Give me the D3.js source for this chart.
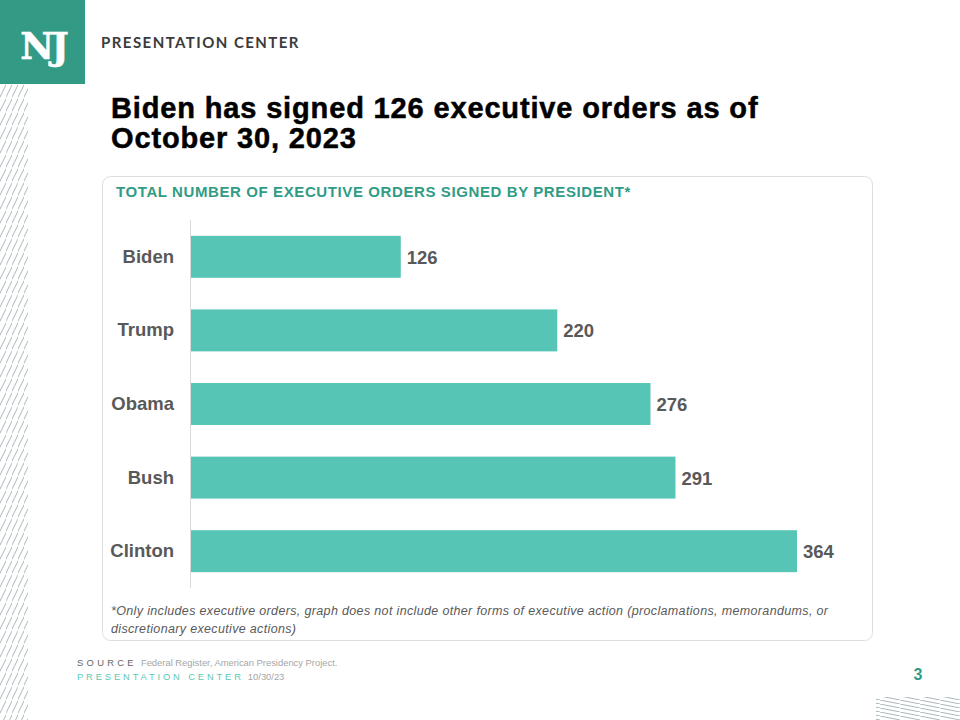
<!DOCTYPE html>
<html>
<head>
<meta charset="utf-8">
<script src="https://cdn.jsdelivr.net/npm/d3@7"></script>
<style>
  body { margin: 0; background: #fff; }
  svg { display: block; }
</style>
</head>
<body>
<svg id="chart" width="960" height="720"></svg>
<script>
var presidents = ['Biden', 'Trump', 'Obama', 'Bush', 'Clinton'];
var orders = [126, 220, 276, 291, 364];
var titleLines = ['Biden has signed 126 executive orders as of', 'October 30, 2023'];
var subtitle = 'TOTAL NUMBER OF EXECUTIVE ORDERS SIGNED BY PRESIDENT*';
var footLines = ['*Only includes executive orders, graph does not include other forms of executive action (proclamations, memorandums, or',
  'discretionary executive actions)'];

var FONT = 'Liberation Sans, Arial, sans-serif';
var BAR = '#56c5b5';
var TEAL = '#2f9c86';

var svg = d3.select('#chart');

// hatch patterns
var defs = svg.append('defs');
defs.append('pattern')
  .attr('id', 'hatchLeft')
  .attr('patternUnits', 'userSpaceOnUse')
  .attr('width', 6).attr('height', 14)
  .append('line')
  .attr('x1', -1).attr('y1', 15).attr('x2', 7).attr('y2', -1)
  .attr('stroke', '#9fb0b4').attr('stroke-width', 0.9);
defs.append('pattern')
  .attr('id', 'hatchRight')
  .attr('patternUnits', 'userSpaceOnUse')
  .attr('width', 20).attr('height', 4)
  .append('line')
  .attr('x1', -2).attr('y1', -0.4).attr('x2', 22).attr('y2', 4.4)
  .attr('stroke', '#9fb0b4').attr('stroke-width', 0.9);

svg.append('rect').attr('x', 0).attr('y', 84).attr('width', 28).attr('height', 636).attr('fill', 'url(#hatchLeft)');
svg.append('rect').attr('x', 876).attr('y', 697).attr('width', 84).attr('height', 23).attr('fill', 'url(#hatchRight)');

// logo
svg.append('rect').attr('x', 0).attr('y', 0).attr('width', 85).attr('height', 84).attr('fill', '#339b85');
svg.append('text')
  .attr('x', 43).attr('y', 59)
  .attr('text-anchor', 'middle')
  .attr('font-family', 'DejaVu Serif, Liberation Serif, serif')
  .attr('font-weight', 'bold')
  .attr('font-size', 37)
  .attr('letter-spacing', -3)
  .attr('fill', '#fff')
  .attr('stroke', '#fff').attr('stroke-width', 0.6)
  .text('NJ');
svg.append('text')
  .attr('x', 101).attr('y', 48)
  .attr('font-family', 'Lato, Open Sans, sans-serif')
  .attr('font-weight', 'bold')
  .attr('font-size', 15)
  .attr('letter-spacing', 1.45)
  .attr('fill', '#3b3b3b')
  .text('PRESENTATION CENTER');

// title
svg.append('g').selectAll('text')
  .data(titleLines)
  .enter().append('text')
  .attr('x', 111)
  .attr('y', function(d, i) { return 118 + i * 29.5; })
  .attr('font-family', FONT)
  .attr('font-weight', 'bold')
  .attr('font-size', 29)
  .attr('letter-spacing', 0.85)
  .attr('fill', '#000')
  .attr('stroke', '#000').attr('stroke-width', 0.5)
  .text(function(d) { return d; });

// card
svg.append('rect')
  .attr('x', 102.5).attr('y', 176.5).attr('width', 770).attr('height', 464)
  .attr('rx', 8)
  .attr('fill', '#fff')
  .attr('stroke', '#dedede');

svg.append('text')
  .attr('x', 116).attr('y', 197)
  .attr('font-family', FONT)
  .attr('font-weight', 'bold')
  .attr('font-size', 15)
  .attr('letter-spacing', 0.6)
  .attr('fill', TEAL)
  .text(subtitle);

// bars
var x = d3.scaleLinear().domain([0, d3.max(orders)]).range([191, 797]);
var y = d3.scaleBand().domain(presidents).range([220, 588]).paddingInner(0.43).paddingOuter(0.215);

svg.append('line')
  .attr('x1', 190.5).attr('x2', 190.5)
  .attr('y1', 220).attr('y2', 588)
  .attr('stroke', '#d9d9d9');

var rows = svg.append('g').selectAll('g')
  .data(presidents)
  .enter().append('g');

rows.append('rect')
  .attr('x', x(0))
  .attr('y', function(d) { return y(d); })
  .attr('width', function(d, i) { return x(orders[i]) - x(0); })
  .attr('height', y.bandwidth())
  .attr('fill', BAR);

rows.append('text')
  .attr('x', 174)
  .attr('y', function(d) { return y(d) + y.bandwidth() / 2 + 6; })
  .attr('text-anchor', 'end')
  .attr('font-family', FONT)
  .attr('font-weight', 'bold')
  .attr('font-size', 18.5)
  .attr('fill', '#595959')
  .text(function(d) { return d; });

rows.append('text')
  .attr('x', function(d, i) { return x(orders[i]) + 6; })
  .attr('y', function(d) { return y(d) + y.bandwidth() / 2 + 7; })
  .attr('font-family', FONT)
  .attr('font-weight', 'bold')
  .attr('font-size', 18.5)
  .attr('fill', '#595959')
  .text(function(d, i) { return orders[i]; });

// footnote
var footWidths = [717, 185];
svg.append('g').selectAll('text')
  .data(footLines)
  .enter().append('text')
  .attr('x', 111)
  .attr('y', function(d, i) { return 615 + i * 18; })
  .attr('font-family', FONT)
  .attr('font-style', 'italic')
  .attr('font-size', 12.5)
  .attr('fill', '#595959')
  .attr('textLength', function(d, i) { return footWidths[i]; })
  .attr('lengthAdjust', 'spacing')
  .text(function(d) { return d; });

// source block
var src = svg.append('text')
  .attr('x', 77).attr('y', 666)
  .attr('font-family', FONT)
  .attr('font-size', 9.4);
src.append('tspan').attr('fill', '#666').attr('letter-spacing', 3.3).text('SOURCE');
src.append('tspan').attr('fill', '#a6a6a6').attr('letter-spacing', 0).attr('dx', 4).text('Federal Register, American Presidency Project.');

var pc = svg.append('text')
  .attr('x', 77).attr('y', 680)
  .attr('font-family', FONT)
  .attr('font-size', 9.4);
pc.append('tspan').attr('fill', '#5cc9b5').attr('letter-spacing', 2.85).text('PRESENTATION CENTER');
pc.append('tspan').attr('fill', '#a6a6a6').attr('letter-spacing', 0).attr('dx', 4).text('10/30/23');

svg.append('text')
  .attr('x', 918).attr('y', 680)
  .attr('text-anchor', 'middle')
  .attr('font-family', FONT)
  .attr('font-weight', 'bold')
  .attr('font-size', 16)
  .attr('fill', TEAL)
  .text('3');
</script>
</body>
</html>
